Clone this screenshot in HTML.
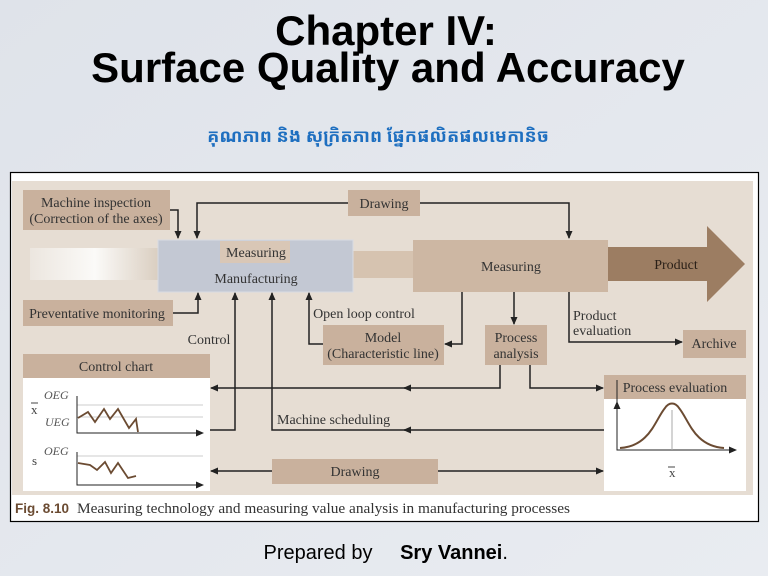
<!DOCTYPE html>
<html><head><meta charset="utf-8"><style>
html,body{margin:0;padding:0;width:768px;height:576px;overflow:hidden;background:#e4e8ee}
svg{display:block}
</style></head><body>
<svg width="768" height="576" viewBox="0 0 768 576" xmlns="http://www.w3.org/2000/svg">
<defs>
<linearGradient id="bg" x1="0" y1="0" x2="1" y2="1"><stop offset="0" stop-color="#dfe3ea"/><stop offset="1" stop-color="#e9ecf1"/></linearGradient>
<linearGradient id="fade" x1="0" y1="0" x2="1" y2="0"><stop offset="0" stop-color="#ece6df"/><stop offset="0.5" stop-color="#fbfaf8"/><stop offset="1" stop-color="#d9cdbf"/></linearGradient>
<marker id="a" markerWidth="8" markerHeight="8" refX="7" refY="4" orient="auto" markerUnits="userSpaceOnUse"><path d="M0,0.5 L8,4 L0,7.5 z" fill="#222"/></marker>
</defs>
<rect width="768" height="576" fill="url(#bg)"/>
<g font-family="Liberation Sans, Arial, sans-serif" text-anchor="middle">
<text x="386" y="45" font-size="42" font-weight="bold" fill="#000">Chapter IV:</text>
<text x="388" y="82" font-size="42" font-weight="bold" fill="#000">Surface Quality and Accuracy</text>
<text x="378" y="142" font-size="18" font-weight="bold" fill="#1e6fc0" font-family="Noto Sans Khmer, Liberation Sans, sans-serif">គុណភាព និង សុក្រិតភាព ផ្នែកផលិតផលមេកានិច</text>
<text x="318" y="559" font-size="20" fill="#000">Prepared by</text>
<text x="454" y="559" font-size="20" font-weight="bold" fill="#000">Sry Vannei<tspan font-weight="normal">.</tspan></text>
</g>
<rect x="10.5" y="172.5" width="748" height="349" fill="#fff" stroke="#000" stroke-width="1.2"/>
<rect x="12" y="181" width="741" height="314" fill="#e6ddd3"/>
<g font-family="Liberation Serif, serif" font-size="14" fill="#333" text-anchor="middle">
<rect x="30" y="248" width="130" height="32" fill="url(#fade)"/>
<rect x="352" y="251" width="62" height="27" fill="#d6c3b0"/>
<path d="M608,247 L707,247 L707,226 L745,264 L707,302 L707,281 L608,281 z" fill="#9c7d62"/>
<text x="676" y="269" fill="#2a2018">Product</text>
<rect x="23" y="190" width="147" height="40" fill="#c9b19d"/>
<text x="96" y="207">Machine inspection</text><text x="96" y="223">(Correction of the axes)</text>
<rect x="348" y="190" width="72" height="26" fill="#c9b19d"/><text x="384" y="208">Drawing</text>
<rect x="158" y="240" width="195" height="52" fill="#c3c8d3" stroke="#d8dbe3"/>
<rect x="220" y="241" width="70" height="22" fill="#d9c7b6"/>
<text x="256" y="257">Measuring</text><text x="256" y="283">Manufacturing</text>
<rect x="413" y="240" width="195" height="52" fill="#cdb7a3"/><text x="511" y="271">Measuring</text>
<rect x="23" y="300" width="150" height="26" fill="#c9b19d"/><text x="97" y="318">Preventative monitoring</text>
<rect x="323" y="325" width="121" height="40" fill="#c9b19d"/><text x="383" y="342">Model</text><text x="383" y="358">(Characteristic line)</text>
<rect x="485" y="325" width="62" height="40" fill="#c9b19d"/><text x="516" y="342">Process</text><text x="516" y="358">analysis</text>
<rect x="683" y="330" width="63" height="28" fill="#c9b19d"/><text x="714" y="348">Archive</text>
<rect x="23" y="354" width="187" height="137" fill="#fff"/>
<rect x="23" y="354" width="187" height="24" fill="#c9b19d"/><text x="116" y="371">Control chart</text>
<rect x="604" y="375" width="142" height="116" fill="#fff"/>
<rect x="604" y="375" width="142" height="24" fill="#c9b19d"/><text x="675" y="392">Process evaluation</text>
<rect x="272" y="459" width="166" height="25" fill="#c9b19d"/><text x="355" y="476">Drawing</text>
<text x="209" y="344">Control</text>
<text x="364" y="318">Open loop control</text>
<text x="573" y="320" text-anchor="start">Product</text><text x="573" y="335" text-anchor="start">evaluation</text>
<text x="277" y="424" text-anchor="start">Machine scheduling</text>
</g>
<g stroke="#222" stroke-width="1.5" fill="none">
<path d="M348,203 H197 V238" marker-end="url(#a)"/>
<path d="M420,203 H569 V238" marker-end="url(#a)"/>
<path d="M170,210 H178 V238" marker-end="url(#a)"/>
<path d="M173,313 H198 V293" marker-end="url(#a)"/>
<path d="M210,430 H235 V293" marker-end="url(#a)"/>
<path d="M604,430 H272 V293" marker-end="url(#a)"/>
<path d="M323,344 H309 V293" marker-end="url(#a)"/>
<path d="M462,292 V344 H445" marker-end="url(#a)"/>
<path d="M514,292 V324" marker-end="url(#a)"/>
<path d="M569,292 V342 H682" marker-end="url(#a)"/>
<path d="M500,365 V388 H211" marker-end="url(#a)"/>
<path d="M530,365 V388 H603" marker-end="url(#a)"/>
<path d="M272,471 H211" marker-end="url(#a)"/>
<path d="M438,471 H603" marker-end="url(#a)"/>
<path d="M410,388 h-6" marker-end="url(#a)"/>
<path d="M410,430 h-6" marker-end="url(#a)"/>
</g>
<g stroke-width="1">
<line x1="77" y1="405" x2="203" y2="405" stroke="#ccc"/>
<line x1="77" y1="417" x2="203" y2="417" stroke="#ccc"/>
<line x1="77" y1="456" x2="203" y2="456" stroke="#ccc"/>
<path d="M77,396 V433 H203" stroke="#222" fill="none" marker-end="url(#a)"/>
<path d="M77,452 V485 H203" stroke="#222" fill="none" marker-end="url(#a)"/>
<path d="M78,418 L88,412 L95,422 L104,409 L110,419 L118,409 L129,428 L136,419 L138,432" stroke="#6b4b32" stroke-width="1.8" fill="none"/>
<path d="M78,463 L90,465 L97,470 L105,462 L111,473 L118,463 L128,478 L136,476" stroke="#6b4b32" stroke-width="1.8" fill="none"/>
<path d="M617,380 V450 H735" stroke="#222" fill="none"/>
<path d="M617,410 V402" stroke="#222" marker-end="url(#a)"/>
<path d="M730,450 h6" stroke="#222" marker-end="url(#a)"/>
<line x1="672" y1="410" x2="672" y2="450" stroke="#aaa"/>
<path d="M620,448 C650,446 655,420 665,408 C669,402 675,402 679,408 C689,420 694,446 724,448" stroke="#6b4b32" stroke-width="2" fill="none"/>
</g>
<g font-family="Liberation Serif, serif" font-size="12" font-style="italic" fill="#555">
<text x="44" y="399">OEG</text><text x="45" y="426">UEG</text><text x="44" y="455">OEG</text>
</g>
<g font-family="Liberation Serif, serif" font-size="13" fill="#444">
<text x="31" y="414">x</text><line x1="31" y1="403" x2="38" y2="403" stroke="#444"/>
<text x="32" y="465">s</text>
<text x="669" y="477">x</text><line x1="668" y1="467" x2="675" y2="467" stroke="#444"/>
</g>
<text x="15" y="513" font-family="Liberation Sans, sans-serif" font-size="14" font-weight="bold" fill="#6b4b32" textLength="54" lengthAdjust="spacingAndGlyphs">Fig. 8.10</text>
<text x="77" y="513" font-family="Liberation Serif, serif" font-size="15" fill="#333" textLength="493" lengthAdjust="spacingAndGlyphs">Measuring technology and measuring value analysis in manufacturing processes</text>
</svg>
</body></html>
